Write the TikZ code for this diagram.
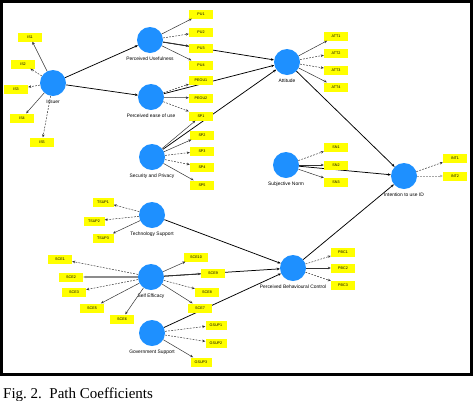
\documentclass[tikz,border=0pt]{standalone}
\usepackage{fontspec}
\setmainfont{Liberation Sans}
\newfontfamily\capfont{Liberation Serif}
\usetikzlibrary{arrows.meta,backgrounds}
\definecolor{lvblue}{RGB}{30,144,255}
\definecolor{indyellow}{RGB}{255,255,0}
\tikzset{
  lv/.style={circle,fill=lvblue,draw=none,minimum size=26pt,inner sep=0pt},
  lab/.style={font=\fontsize{4.9}{5}\selectfont,text=black,inner sep=0.5pt},
  ind/.style={rectangle,fill=indyellow,draw=none,minimum width=24pt,minimum height=9pt,inner sep=0pt,font=\fontsize{3.7}{4}\selectfont},
  indn/.style={ind,minimum width=21pt},
  tip/.style={-{Stealth[length=3pt,width=2.6pt]}},
  meas/.style={tip,line width=0.5pt,black!80},
  measd/.style={meas,dash pattern=on 1.8pt off 1.3pt},
  measl/.style={meas,black!35,dash pattern=on 1.5pt off 1.5pt},
  measg/.style={tip,line width=1.1pt,black!45},
  meast/.style={meas,line width=0.8pt},
  struct/.style={tip,line width=0.75pt,black}
}
\begin{document}
\begin{tikzpicture}[x=1pt,y=-1pt]
\useasboundingbox (0,0) rectangle (474,400);
% latent variables
\node[lv,label={[lab,label distance=3pt]below:Issuer}] (Iss) at (53,83) {};
\node[lv,label={[lab,label distance=3pt]below:Perceived Usefulness}] (PU) at (150,40) {};
\node[lv,label={[lab,label distance=3pt]below:Perceived ease of use}] (PEOU) at (151,97) {};
\node[lv,label={[lab,label distance=3pt]below:Security and Privacy}] (SP) at (152,157) {};
\node[lv,label={[lab,label distance=3pt]below:Attitude}] (ATT) at (287,62) {};
\node[lv,label={[lab,label distance=3pt]below:Subjective Norm}] (SN) at (286,165) {};
\node[lv,label={[lab,label distance=3pt]below:Intention to use ID}] (INT) at (404,176) {};
\node[lv,label={[lab,label distance=3pt]below:Technology Support}] (TS) at (152,215) {};
\node[lv,label={[lab,label distance=3pt]below:Self Efficacy}] (SE) at (151,277) {};
\node[lv,label={[lab,label distance=3pt]below:Government Support}] (GS) at (152,333) {};
\node[lv,label={[lab,label distance=3pt]below:Perceived Behavioural Control}] (PBC) at (293,268) {};
% indicators
\node[ind] (IS1) at (30,37) {IS1};
\node[ind] (IS2) at (23,64) {IS2};
\node[ind] (IS3) at (16,89) {IS3};
\node[ind] (IS4) at (22,118) {IS4};
\node[ind] (IS5) at (42,142) {IS5};
\node[ind] (PU1) at (201,14) {PU1};
\node[ind] (PU2) at (201,32) {PU2};
\node[ind] (PU3) at (201,48) {PU3};
\node[ind] (PU4) at (201,65) {PU4};
\node[ind] (PEOU1) at (201,80) {PEOU1};
\node[ind] (PEOU2) at (201,98) {PEOU2};
\node[ind] (SP1) at (201,116) {SP1};
\node[ind] (SP2) at (202,135) {SP2};
\node[ind] (SP3) at (202,151) {SP3};
\node[ind] (SP4) at (202,167) {SP4};
\node[ind] (SP5) at (202,185) {SP5};
\node[ind] (ATT1) at (336,36) {ATT1};
\node[ind] (ATT2) at (336,53) {ATT2};
\node[ind] (ATT3) at (336,70) {ATT3};
\node[ind] (ATT4) at (336,87) {ATT4};
\node[ind] (SN1) at (336,147) {SN1};
\node[ind] (SN2) at (336,165) {SN2};
\node[ind] (SN3) at (336,182) {SN3};
\node[ind] (INT1) at (455,158) {INT1};
\node[ind] (INT2) at (455,176) {INT2};
\node[ind] (PBC1) at (343,252) {PBC1};
\node[ind] (PBC2) at (343,268) {PBC2};
\node[ind] (PBC3) at (343,285) {PBC3};
\node[indn] (TSUP1) at (103,202) {TSUP1};
\node[indn] (TSUP2) at (94,221) {TSUP2};
\node[indn] (TSUP3) at (103,238) {TSUP3};
\node[ind] (SCE1) at (60,259) {SCE1};
\node[ind] (SCE2) at (71,277) {SCE2};
\node[ind] (SCE3) at (74,292) {SCE3};
\node[ind] (SCE5) at (92,308) {SCE5};
\node[ind] (SCE6) at (122,319) {SCE6};
\node[ind] (SCE10) at (196,257) {SCE10};
\node[ind] (SCE9) at (213,273) {SCE9};
\node[ind] (SCE8) at (207,292) {SCE8};
\node[ind] (SCE7) at (200,308) {SCE7};
\node[indn] (GSUP1) at (216,325) {GSUP1};
\node[indn] (GSUP2) at (216,343) {GSUP2};
\node[indn] (GSUP3) at (201,362) {GSUP3};
% measurement arrows
\draw[meas] (Iss) -- (IS1);
\draw[measd] (Iss) -- (IS2);
\draw[measd] (Iss) -- (IS3);
\draw[meas] (Iss) -- (IS4);
\draw[measd] (Iss) -- (IS5);
\draw[meas] (PU) -- (PU1);
\draw[measd] (PU) -- (PU2);
\draw[meast] (PU) -- (PU3);
\draw[meas] (PU) -- (PU4);
\draw[measd] (PEOU) -- (PEOU1);
\draw[meas] (PEOU) -- (PEOU2);
\draw[measd] (PEOU) -- (SP1);
\draw[meas] (SP) -- (SP1);
\draw[meas] (SP) -- (SP2);
\draw[measd] (SP) -- (SP3);
\draw[measd] (SP) -- (SP4);
\draw[meas] (SP) -- (SP5);
\draw[meas] (ATT) -- (ATT1);
\draw[measd] (ATT) -- (ATT2);
\draw[measd] (ATT) -- (ATT3);
\draw[meas] (ATT) -- (ATT4);
\draw[measd] (SN) -- (SN1);
\draw[meast] (SN) -- (SN2);
\draw[meas] (SN) -- (SN3);
\draw[measd] (INT) -- (INT1);
\draw[measl] (INT) -- (INT2);
\draw[measd] (PBC) -- (PBC1);
\draw[meas] (PBC) -- (PBC2);
\draw[measd] (PBC) -- (PBC3);
\draw[measd] (TS) -- (TSUP1);
\draw[measd] (TS) -- (TSUP2);
\draw[meas] (TS) -- (TSUP3);
\draw[measd] (SE) -- (SCE1);
\draw[measg] (SE) -- (SCE2);
\draw[measd] (SE) -- (SCE3);
\draw[meas] (SE) -- (SCE5);
\draw[meas] (SE) -- (SCE6);
\draw[meas] (SE) -- (SCE10);
\draw[meast] (SE) -- (SCE9);
\draw[measd] (SE) -- (SCE8);
\draw[meas] (SE) -- (SCE7);
\draw[measd] (GS) -- (GSUP1);
\draw[measd] (GS) -- (GSUP2);
\draw[meas] (GS) -- (GSUP3);
% structural paths
\begin{pgfonlayer}{background}
\draw[struct] (Iss) -- (PU);
\draw[struct] (Iss) -- (PEOU);
\draw[struct] (PU) -- (ATT);
\draw[struct] (PEOU) -- (ATT);
\draw[struct] (SP) -- (ATT);
\draw[struct] (ATT) -- (INT);
\draw[struct] (SN) -- (INT);
\draw[struct] (PBC) -- (INT);
\draw[struct] (TS) -- (PBC);
\draw[struct] (SE) -- (PBC);
\draw[struct] (GS) -- (PBC);
\end{pgfonlayer}
% frame and caption
\draw[line width=3pt] (1.5,1.5) rectangle (471.5,374.5);
\node[anchor=base west,inner sep=0pt,font=\capfont\fontsize{15}{18}\selectfont] (cap) at (3,398) {Fig.\ 2.\ \ Path Coefficients};
\end{tikzpicture}
\end{document}
